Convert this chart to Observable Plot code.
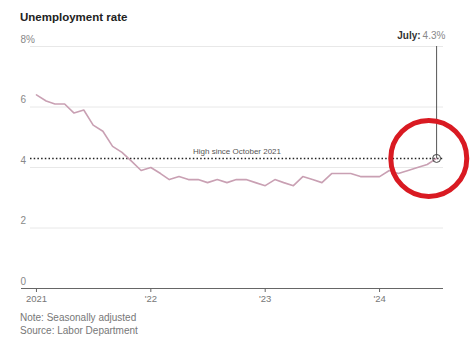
<!DOCTYPE html>
<html><head><meta charset="utf-8">
<script src="https://cdn.jsdelivr.net/npm/d3@7"></script>
<script src="https://cdn.jsdelivr.net/npm/@observablehq/plot@0.6"></script>
<style>
body{margin:0;background:#fff;font-family:"Liberation Sans Narrow","Liberation Sans",sans-serif;}
#title{position:absolute;left:20px;top:11px;font-family:"Liberation Sans Narrow","Liberation Sans",sans-serif;font-weight:bold;font-size:11.5px;color:#222;}
#chart{position:absolute;left:0;top:28px;}
#note{position:absolute;left:20px;top:311px;font-size:10px;line-height:13px;color:#777;}
</style></head>
<body>
<div id="title">Unemployment rate</div>
<div id="chart"></div>
<div id="note">Note: Seasonally adjusted<br>Source: Labor Department</div>
<script>
const startMonth = "2021-01";
const rates = [
  6.4, 6.2, 6.1, 6.1, 5.8, 5.9, 5.4, 5.2, 4.7, 4.5, 4.2, 3.9,
  4.0, 3.8, 3.6, 3.7, 3.6, 3.6, 3.5, 3.6, 3.5, 3.6, 3.6, 3.5,
  3.4, 3.6, 3.5, 3.4, 3.7, 3.6, 3.5, 3.8, 3.8, 3.8, 3.7, 3.7,
  3.7, 3.9, 3.8, 3.9, 4.0, 4.1, 4.3
];
const yTicks = [0, 2, 4, 6, 8];
const yTickLabels = ["0", "2", "4", "6", "8%"];
const xTickDates = ["2021-01-01", "2022-01-01", "2023-01-01", "2024-01-01"];
const xTickLabels = ["2021", "'22", "'23", "'24"];
const highValue = 4.3;
const highLabel = "High since October 2021";
const latestLabelBold = "July:";
const latestLabelValue = "4.3%";

const s0 = new Date(startMonth + "-01T00:00:00");
const data = rates.map((v, i) => ({date: new Date(s0.getFullYear(), s0.getMonth() + i, 1), value: v}));
const last = data[data.length - 1];
const xTicks = xTickDates.map(d => new Date(d + "T00:00:00"));
const domainStart = new Date(2020, 11, 13);
const domainEnd = new Date(2024, 6, 23);
const midDate = new Date((domainStart.getTime() + domainEnd.getTime()) / 2);
const circleCenter = new Date(2024, 5, 6);

const plot = Plot.plot({
  width: 474,
  height: 280,
  marginLeft: 30,
  marginRight: 31,
  marginTop: 18,
  marginBottom: 20,
  style: {fontFamily: '"Liberation Sans Narrow","Liberation Sans",sans-serif', fontSize: "10px", background: "transparent"},
  x: {type: "time", domain: [domainStart, domainEnd]},
  y: {domain: [0, 8], axis: null},
  marks: [
    Plot.ruleY(yTicks.filter(d => d > 0), {stroke: "#e8e8e8", strokeWidth: 1}),
    Plot.text(yTicks, {y: d => d, text: (d, i) => yTickLabels[i], frameAnchor: "left", dx: -10, dy: -7, textAnchor: "start", fill: "#888", fontSize: 10}),
    Plot.ruleY([0], {stroke: "#666", strokeWidth: 1.2, insetLeft: -9}),
    Plot.axisX({ticks: xTicks, tickFormat: (d, i) => xTickLabels[i], tickSize: 4, tickPadding: 3, stroke: "#666", color: "#777", fontSize: 9.5}),
    Plot.ruleY([highValue], {stroke: "#222", strokeWidth: 1.5, strokeDasharray: "1.5,2.2"}),
    Plot.text([highLabel], {x: midDate, y: highValue, text: d => d, dy: -7, fill: "#555", fontSize: 8}),
    Plot.line(data, {x: "date", y: "value", stroke: "#c9a0b3", strokeWidth: 1.6}),
    Plot.ruleX([last], {x: "date", y1: "value", y2: 8, stroke: "#555", strokeWidth: 1}),
    Plot.dot([last], {x: "date", y: "value", r: 4, stroke: "#444", strokeWidth: 1, fill: "none"}),
    Plot.text([last], {x: "date", y: 8, text: () => latestLabelBold, dy: -11, dx: -16, textAnchor: "end", fontWeight: "bold", fill: "#333", fontSize: 10}),
    Plot.text([last], {x: "date", y: 8, text: () => latestLabelValue, dy: -11, dx: -14, textAnchor: "start", fill: "#888", fontSize: 10}),
    Plot.dot([{date: circleCenter, value: highValue}], {x: "date", y: "value", r: 38, stroke: "#d91a22", strokeWidth: 5, fill: "none"})
  ]
});
document.getElementById("chart").appendChild(plot);
</script>
</body></html>
